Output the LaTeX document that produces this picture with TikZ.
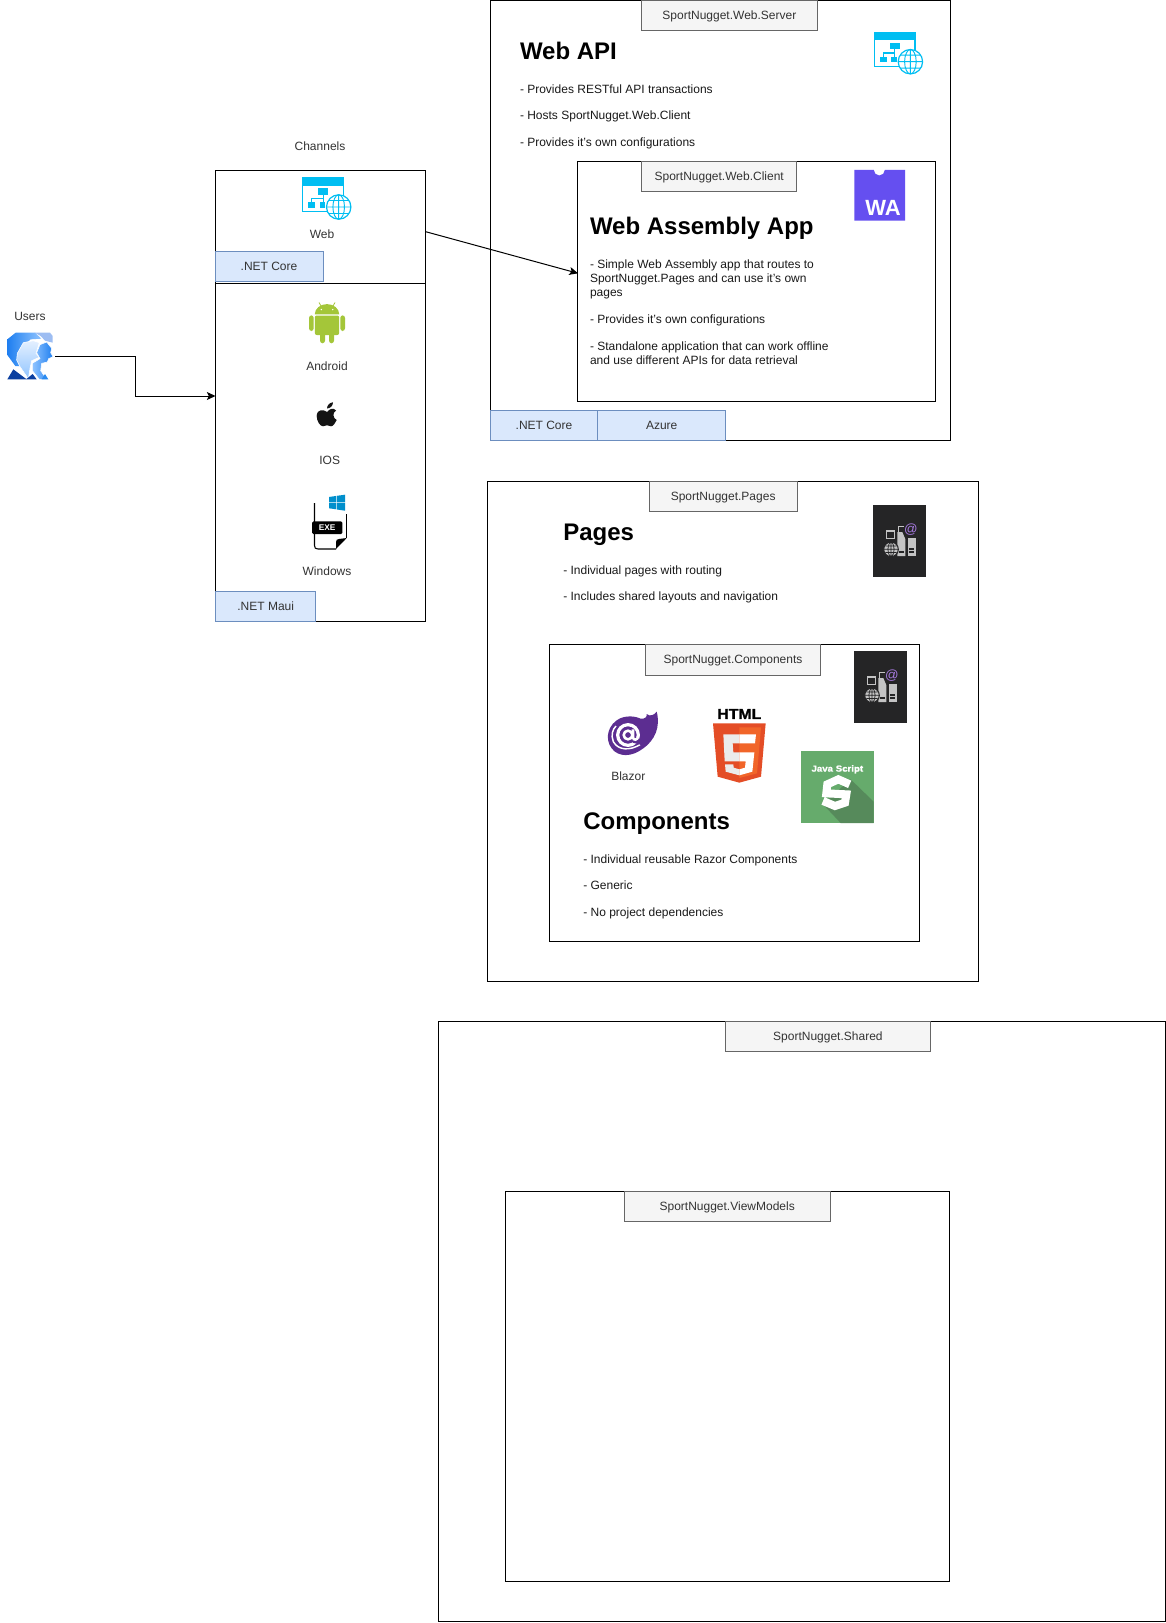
\documentclass[tikz,border=0pt]{standalone}
\usepackage{fontspec}
\setmainfont{Liberation Sans}
\newfontfamily\heavyfont[FakeBold=1.2,FakeStretch=1.1]{Liberation Sans Bold}
\usetikzlibrary{arrows.meta,shadings}
\definecolor{tagfill}{HTML}{F5F5F5}
\definecolor{tagline}{HTML}{666666}
\definecolor{tagtext}{HTML}{333333}
\definecolor{bluefill}{HTML}{DAE8FC}
\definecolor{blueline}{HTML}{6C8EBF}
\definecolor{azureicon}{HTML}{00BEF2}
\definecolor{wasm}{HTML}{654FF0}
\definecolor{darkbg}{HTML}{252526}
\definecolor{darkgray}{HTML}{C4C4C4}
\definecolor{darkpurple}{HTML}{A87BE0}
\definecolor{droid}{HTML}{A4C639}
\definecolor{blazor}{HTML}{5C2D91}
\definecolor{hOne}{HTML}{E44D26}
\definecolor{hTwo}{HTML}{F16529}
\definecolor{jsg}{HTML}{66AB6C}
\definecolor{jss}{HTML}{568A5B}
\definecolor{uOne}{HTML}{1F7FF0}
\definecolor{uTwo}{HTML}{90C4FF}
\definecolor{uThree}{HTML}{9DBDF2}
\definecolor{uFour}{HTML}{E4F0FF}
\definecolor{uFive}{HTML}{0B3FA0}
\definecolor{uSix}{HTML}{2B8BF0}
\tikzset{
  boxbase/.style={rectangle,inner sep=0pt,outer sep=0pt,line width=.75pt},
  plainbox/.style={boxbase,draw=black,fill=white},
  tagbox/.style={boxbase,draw=tagline,fill=tagfill,text=tagtext,font=\fontsize{9}{10.5}\selectfont},
  bluebox/.style={boxbase,draw=blueline,fill=bluefill,text=tagtext,font=\fontsize{9}{10.5}\selectfont},
  iconbox/.style={boxbase},
  label/.style={inner sep=0pt,outer sep=0pt,text=tagtext,font=\fontsize{9}{10.5}\selectfont},
  para/.style={inner sep=0pt,outer sep=0pt,anchor=base west,text=black!90,font=\fontsize{9}{10.5}\selectfont},
  paramulti/.style={inner sep=0pt,outer sep=0pt,anchor=west,align=left,text=black!90,font=\fontsize{9}{10.5}\selectfont},
  heading/.style={inner sep=0pt,outer sep=0pt,anchor=base west,text=black,font=\fontsize{18}{21}\selectfont\bfseries},
  link/.style={line width=.75pt,draw=black,-{Stealth[length=6.5pt,width=6pt,inset=1.5pt]}},
}
% box: style, name, x1, y1, x2, y2, text
\newcommand{\bx}[7]{\node[#1,minimum width={(#5-#3)*.75pt},minimum height={(#6-#4)*.75pt}] (#2) at ({(#3+#5)/2},{(#4+#6)/2}) {\raisebox{-2.9pt}[0pt][0pt]{#7}};}
\newcommand{\webicon}[2]{\begin{scope}[shift={(#1,#2)}]
  \draw[azureicon,line width=.9pt] (0.5,0.5) rectangle (41,34.5);
  \fill[azureicon] (0,0) rectangle (41.5,8.5);
  \fill[azureicon] (15.7,11) rectangle (26,17.7);
  \fill[azureicon] (5.7,25) rectangle (13,30.7);
  \fill[azureicon] (17.4,25) rectangle (22.7,30.7);
  \draw[azureicon,line width=.8pt] (20.8,17.7) -- (20.8,25) (9.3,25) -- (9.3,21.3) -- (20.8,21.3);
  \draw[azureicon,fill=white,line width=.9pt] (36.4,30) circle (12.2);
  \draw[azureicon,line width=.7pt] (36.4,30) ellipse (5.8 and 12.2) (36.4,17.8) -- (36.4,42.2) (24.2,30) -- (48.6,30)
     (26,23.5) -- (46.8,23.5) (26,36.5) -- (46.8,36.5);
\end{scope}}
\newcommand{\darkicon}[2]{\begin{scope}[shift={(#1,#2)}]
  \fill[darkbg] (0,0) rectangle (52.4,72);
  \draw[darkgray,line width=1.1pt] (13,26) rectangle (21,33.5);
  \fill[darkgray] (24,27) -- (29,27) -- (32,34) -- (32,51) -- (24,51) -- cycle;
  \draw[darkgray,line width=1pt] (25,27) -- (25,21.5) -- (31,21.5);
  \fill[darkgray] (34.2,32.5) rectangle (42.4,51);
  \draw[darkbg,line width=.8pt] (35.5,44) -- (41,44) (35.5,47) -- (41,47) (25.5,47) -- (31,47);
  \draw[darkbg,fill=darkgray,line width=.8pt] (17.7,44.3) circle (7.3);
  \draw[darkbg,line width=.55pt] (17.7,44.3) ellipse (3 and 7) (10.7,44.3) -- (24.7,44.3) (17.7,37.3) -- (17.7,51.3) (12,41) -- (23.4,41) (12,47.6) -- (23.4,47.6);
  \node[inner sep=0pt,text=darkpurple,font=\fontsize{10}{10}\selectfont] at (37.5,24.3) {@};
\end{scope}}
\begin{document}
\begin{tikzpicture}[x=.75pt,y=-.75pt]
\useasboundingbox (0,0) rectangle (1166,1623);

% ---------- Users
\node[label] (userslabel) at (30,316.4) {Users};
\node[iconbox,minimum width=34.5pt,minimum height=34.5pt] (users) at (30,356) {};
\begin{scope}[shift={(0,300)},x=.25pt,y=-.25pt]
  \fill[uThree] (104,98) -- (150,98) -- (158,108) -- (158,128) -- (135,122) -- (122,108) -- cycle;
  \shade[left color=uOne,right color=uTwo] (47,98) -- (105,98) -- (124,116) -- (92,118) -- (60,148) -- (55,175) -- (66,198) -- (46,198) -- (22,165) -- (22,118) -- cycle;
  \shade[top color=uFour,bottom color=uTwo,draw=white,line width=.4pt] (52,160) -- (70,128) -- (100,122) -- (118,128) -- (108,160) -- (118,172) -- (95,182) -- (90,205) -- (85,236) -- (60,200) -- (50,180) -- cycle;
  \shade[left color=uTwo,right color=uOne,draw=white,line width=.4pt] (110,158) -- (120,134) -- (140,126) -- (155,145) -- (152,158) -- (159,170) -- (146,176) -- (142,186) -- (125,190) -- (122,212) -- (140,238) -- (118,238) -- (97,212) -- (97,190) -- (120,176) -- cycle;
  \fill[uFive] (22,238) -- (40,208) -- (80,238) -- cycle (78,238) -- (98,222) -- (110,238) -- cycle;
  \fill[uSix] (125,238) -- (135,222) -- (145,238) -- cycle;
\end{scope}

% ---------- Channels
\node[label] (channels) at (320,146.4) {Channels};
\bx{plainbox}{chweb}{215}{170.7}{425.7}{283.3}{}
\bx{plainbox}{chmaui}{215}{283.3}{425.7}{621.3}{}
\webicon{302.3}{177}
\node[label] (weblabel) at (322,233.9) {Web};
\bx{bluebox}{tagcore}{215}{251.3}{323}{281.7}{}
\node[label] (tagcoretext) at (269,266.4) {.NET Core};
\bx{bluebox}{tagmaui}{215}{591.3}{315.5}{621.3}{}
\node[label] (tagmauitext) at (265.7,606.4) {.NET Maui};

% Android
\begin{scope}
  \fill[droid] (314.8,314.3) arc[start angle=180,end angle=360,x radius=12.2,y radius=10.2] -- cycle;
  \draw[droid,line width=.6pt] (321,306) -- (319,302.5) (333,306) -- (335,302.5);
  \fill[white] (321.3,309.6) circle (.8) (332.7,309.6) circle (.8);
  \fill[droid,rounded corners=1.5pt] (314.8,315.5) rectangle (339.2,335);
  \fill[droid,rounded corners=2pt] (309,315.3) rectangle (313.7,331);
  \fill[droid,rounded corners=2pt] (340.3,315.3) rectangle (345,331);
  \fill[droid,rounded corners=2pt] (320,330) rectangle (325,343.3);
  \fill[droid,rounded corners=2pt] (329,330) rectangle (334,343.3);
\end{scope}
\node[label] (android) at (327,366.2) {Android};

% Apple
\fill[black!92] (327,412) .. controls (324,409.5) and (317,408.5) .. (316.7,416) .. controls (316.7,421) and (320,426.3) .. (323,426.3) .. controls (325,426.3) and (325.5,425.3) .. (327,425.3) .. controls (328.5,425.3) and (329.5,426.3) .. (331,426.3) .. controls (333,426.3) and (335.5,423) .. (336.7,420) .. controls (333,418.5) and (332,412.5) .. (336,410.5) .. controls (333.5,407.5) and (330,408.5) .. (327,412) -- cycle;
\fill[black!92] (327,408.5) .. controls (327,405) and (330,402.5) .. (333,402.3) .. controls (333,405.5) and (330.5,408.5) .. (327,408.5) -- cycle;
\node[label] (ios) at (329.7,460) {IOS};

% Windows EXE
\fill[blue!30!cyan!80!black] (329,497) -- (336.3,495.9) -- (336.3,502.3) -- (329,502.3) -- cycle
  (337,495.8) -- (345,494.7) -- (345,502.3) -- (337,502.3) -- cycle
  (329,503) -- (336.3,503) -- (336.3,509.3) -- (329,508.3) -- cycle
  (337,503) -- (345,503) -- (345,510.7) -- (337,509.5) -- cycle;
\draw[black,line width=.8pt] (314.5,503) -- (314.5,522) (314.5,534) -- (314.5,545.5) .. controls (314.5,548) and (315.5,549) .. (318,549) -- (336,549);
\draw[black,line width=.8pt] (346.5,514) -- (346.5,537.5);
\fill[black] (336,549) -- (336,542) .. controls (336,540) and (337,539) .. (339,539) -- (346.7,538) -- cycle;
\node[fill=black,rounded corners=1pt,inner sep=0pt,minimum width=22.7pt,minimum height=9.5pt,text=white,font=\fontsize{6.2}{7}\selectfont\bfseries] (exe) at (327.2,527.7) {EXE};
\node[label] (windows) at (327,571.2) {Windows};

% ---------- Web server
\bx{plainbox}{server}{490.3}{.5}{950.7}{440}{}
\bx{tagbox}{servertag}{641.7}{.5}{817}{30.5}{SportNugget.Web.Server}
\node[heading] (webapi) at (520,59.3) {Web API};
\node[para] (p1) at (520,93.3) {- Provides RESTful API transactions};
\node[para] (p2) at (520,119.3) {- Hosts SportNugget.Web.Client};
\node[para] (p3) at (520,146.3) {- Provides it's own configurations};
\webicon{874}{31.7}

\bx{plainbox}{client}{577.7}{161.7}{935.7}{401.7}{}
\bx{tagbox}{clienttag}{641.7}{161.7}{796.7}{191.5}{SportNugget.Web.Client}
\node[heading] (wasmhead) at (590,234.5) {Web Assembly App};
\node[paramulti] (p4) at (590,279) {- Simple Web Assembly app that routes to\\SportNugget.Pages and can use it's own\\pages};
\node[para] (p5) at (590,323.3) {- Provides it's own configurations};
\node[paramulti] (p6) at (590,353.4) {- Standalone application that can work offline\\and use different APIs for data retrieval};
\fill[wasm] (854.3,170) -- (873.8,170) arc[start angle=180,end angle=0,radius=5.5] -- (905,170) -- (905,220.7) -- (854.3,220.7) -- cycle;
\node[inner sep=0pt,anchor=base,text=white,font=\fontsize{16.5}{18}\selectfont\bfseries] (wa) at (883,215) {WA};

\bx{bluebox}{srvcore}{490.3}{410.7}{597.7}{440.7}{.NET Core}
\bx{bluebox}{srvazure}{597.7}{410.7}{725.7}{440.7}{Azure}

% ---------- Pages
\bx{plainbox}{pages}{487.7}{481.7}{978.3}{981.3}{}
\bx{tagbox}{pagestag}{649.3}{481.7}{797}{511.7}{SportNugget.Pages}
\node[heading] (pageshead) at (563.3,540) {Pages};
\node[para] (p7) at (563.3,574.3) {- Individual pages with routing};
\node[para] (p8) at (563.3,600.3) {- Includes shared layouts and navigation};
\darkicon{873.3}{505}

\bx{plainbox}{components}{549}{644.7}{919.3}{941.3}{}
\bx{tagbox}{componentstag}{645.3}{644.7}{820.7}{675.3}{SportNugget.Components}
\darkicon{854.3}{651}
% Blazor
\begin{scope}[shift={(590,700)},x=.25pt,y=-.25pt]
  \fill[blazor] (200,35) .. controls (212,80) and (195,120) .. (160,145) .. controls (125,172) and (85,172) .. (65,145) .. controls (42,115) and (55,72) .. (90,55) .. controls (115,45) and (140,50) .. (152,56) .. controls (165,58) and (172,50) .. (170,42) .. controls (180,50) and (192,46) .. (200,35) -- cycle;
  \draw[white,line width=1.1pt] (150,134) .. controls (120,152) and (85,152) .. (70,125) .. controls (62,105) and (68,88) .. (78,78);
  \draw[white,line width=2.4pt] (114,105) circle (31);
  \draw[white,line width=1.9pt] (114,105) circle (13);
  \fill[blazor] (128,106) -- (152,118) -- (152,134) -- (128,128) -- cycle;
  \draw[white,line width=1.9pt] (129,88) -- (129,112) .. controls (129,122) and (143,122) .. (145,108);
\end{scope}
\node[label] (blazorlabel) at (628.3,776.4) {Blazor};
% HTML5
\begin{scope}[shift={(590,700)},x=.25pt,y=-.25pt]
  \node[inner sep=0pt,text=black,font=\fontsize{10.8}{12}\heavyfont] (htmltext) at (448,42) {HTML};
  \fill[hOne] (369,70) -- (527,70) -- (513,230) -- (448,248) -- (383,230) -- cycle;
  \fill[hTwo] (448,82) -- (513,82) -- (501,220) -- (448,234) -- cycle;
  \fill[black!8] (400,103) -- (448,103) -- (448,130) -- (428,130) -- (430,157) -- (448,157) -- (448,184) -- (404,184) -- cycle
     (405,193) -- (430,193) -- (431,203) -- (448,208) -- (448,226) -- (407,215) -- cycle;
  \fill[white] (448,103) -- (498,103) -- (495,130) -- (448,130) -- cycle
     (448,157) -- (493,157) -- (487,215) -- (448,226) -- (448,208) -- (465,203) -- (467,184) -- (448,184) -- cycle;
\end{scope}
% JavaScript
\begin{scope}[shift={(590,700)},x=.25pt,y=-.25pt]
  \fill[jsg] (634,153) rectangle (851,369);
  \fill[jss] (782,238) -- (851,305) -- (851,369) -- (752,369) -- (698,312) -- cycle;
  \draw[white,line width=6pt,miter limit=4] (779,253) -- (745,238) -- (712,253) -- (709,280) -- (769,283) -- (765,308) -- (735,318) -- (699,303);
  \node[inner sep=0pt,text=white,font=\fontsize{6.6}{8}\heavyfont] (jstext) at (742,208) {Java Script};
\end{scope}
\node[heading] (comphead) at (583.3,829) {Components};
\node[para] (p9) at (583.3,863.3) {- Individual reusable Razor Components};
\node[para] (p10) at (583.3,889.3) {- Generic};
\node[para] (p11) at (583.3,916.3) {- No project dependencies};

% ---------- Shared
\bx{plainbox}{shared}{438.5}{1021.5}{1165.2}{1621.3}{}
\bx{tagbox}{sharedtag}{725.3}{1021.5}{930.5}{1051.5}{SportNugget.Shared}
\bx{plainbox}{viewmodels}{505.6}{1191.6}{949.7}{1581.4}{}
\bx{tagbox}{vmtag}{624.4}{1191.6}{830}{1221.7}{SportNugget.ViewModels}

% ---------- Connectors
\coordinate (usersout) at (55,356.7);
\coordinate (mauiin) at (215.5,396);
\coordinate (webout) at (425.7,231.7);
\coordinate (clientin) at (578,273.3);
\draw[link] (usersout) -- (135.5,356.7) -- (135.5,396) -- (mauiin);
\draw[link] (webout) -- (clientin);
\end{tikzpicture}
\end{document}
